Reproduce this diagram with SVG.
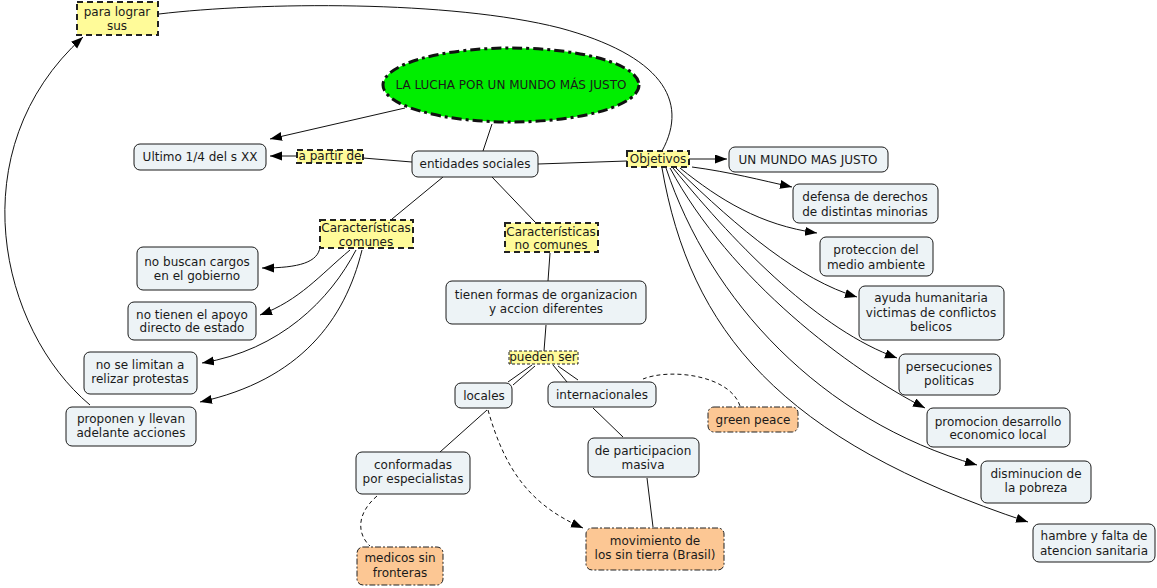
<svg xmlns="http://www.w3.org/2000/svg" width="1157" height="588" viewBox="0 0 1157 588">
<style>
text{font-family:"DejaVu Sans",Verdana,sans-serif;font-size:12px;fill:#1a1a1a;text-anchor:middle}
.n rect{fill:#edf3f6;stroke:#1a1a1a;stroke-width:1}
.l rect{fill:#fffb99;stroke:#222;stroke-width:2;stroke-dasharray:6,4}
.l2 rect{fill:#fffb99;stroke:#222;stroke-width:1;stroke-dasharray:3,2}
.o rect{fill:#fcc794;stroke:#222;stroke-width:1;stroke-dasharray:6,2,2,2}
#connectors path{fill:none;stroke:#111;stroke-width:1}
#connectors .d{stroke-dasharray:4,3}
#connectors .a{marker-end:url(#arr)}
</style>
<defs>
<marker id="arr" markerUnits="userSpaceOnUse" markerWidth="13" markerHeight="10" refX="12" refY="4.5" orient="auto">
<path d="M0,0 L12,4.5 L0,9 z" fill="#000"/>
</marker>
</defs>
<rect width="1157" height="588" fill="#fff"/>
<g id="connectors">
<path d="M159,14 C260,2 450,0 560,28 C660,55 690,100 662,151"/>
<path class="a" d="M90,405 C0,330 -42,150 83,37"/>
<path class="a" d="M405,108 L270,139"/>
<path d="M492,124 L483,151"/>
<path d="M412,162 L363,158"/>
<path class="a" d="M297,156 L270,156"/>
<path d="M538,164 L627,161"/>
<path d="M443,177 L392,219"/>
<path d="M492,177 L535,222"/>
<path class="a" d="M320,247 C318,262 300,268 262,268"/>
<path class="a" d="M350,250 C320,275 300,300 260,315"/>
<path class="a" d="M356,250 C330,300 280,350 202,363"/>
<path class="a" d="M362,250 C345,320 300,380 200,402"/>
<path d="M550,253 L548,281"/>
<path d="M546,325 L544,351"/>
<path d="M532,365 L508,382"/>
<path d="M535,366 L513,385"/>
<path d="M553,365 L567,382"/>
<path d="M558,366 L578,380"/>
<path d="M487,410 L440,452"/>
<path class="d a" d="M488,410 C505,470 530,505 583,528"/>
<path d="M593,408 L623,437"/>
<path d="M647,478 L653,527"/>
<path class="d" d="M377,496 C355,515 358,535 370,546"/>
<path class="d" d="M643,379 C670,368 730,375 740,406"/>
<path class="a" d="M689,159 L727,159"/>
<path class="a" d="M692,167 C730,172 760,180 792,187"/>
<path class="a" d="M680,168 C720,200 760,225 817,233"/>
<path class="a" d="M676,168 C740,230 800,280 857,297"/>
<path class="a" d="M673,168 C740,250 820,330 897,358"/>
<path class="a" d="M670,168 C730,280 850,370 925,408"/>
<path class="a" d="M666,168 C710,300 820,420 977,465"/>
<path class="a" d="M662,168 C690,330 780,440 1028,522"/>
</g>
<g id="n-lograr" class="l"><rect x="77" y="2" width="81" height="33"/><text x="117" y="16">para lograr</text><text x="117" y="30">sus</text></g>
<g id="n-main"><ellipse cx="511" cy="85" rx="128" ry="37" fill="#00ee00" stroke="#111" stroke-width="3" stroke-dasharray="10,4,3,4"/><text x="511" y="89">LA LUCHA POR UN MUNDO MÁS JUSTO</text></g>
<g id="n-ultimo" class="n"><rect x="134" y="144" width="132" height="26" rx="6"/><text x="200" y="161">Ultimo 1/4 del s XX</text></g>
<g id="n-apartir" class="l"><rect x="297" y="150" width="66" height="13"/><text x="330" y="160">a partir de</text></g>
<g id="n-entidades" class="n"><rect x="412" y="151" width="126" height="26" rx="6"/><text x="475" y="168">entidades sociales</text></g>
<g id="n-objetivos" class="l"><rect x="627" y="151" width="62" height="16"/><text x="658" y="163">Objetivos</text></g>
<g id="n-mundo" class="n"><rect x="729" y="147" width="159" height="25" rx="6"/><text x="808" y="164">UN MUNDO MAS JUSTO</text></g>
<g id="n-defensa" class="n"><rect x="793" y="184" width="145" height="39" rx="6"/><text x="865" y="201">defensa de derechos</text><text x="865" y="216">de distintas minorias</text></g>
<g id="n-proteccion" class="n"><rect x="820" y="237" width="113" height="39" rx="6"/><text x="876" y="254">proteccion del</text><text x="876" y="269">medio ambiente</text></g>
<g id="n-ayuda" class="n"><rect x="859" y="286" width="145" height="54" rx="6"/><text x="931" y="302">ayuda humanitaria</text><text x="931" y="317">victimas de conflictos</text><text x="931" y="331">belicos</text></g>
<g id="n-persec" class="n"><rect x="899" y="354" width="101" height="41" rx="6"/><text x="949" y="371">persecuciones</text><text x="949" y="385">politicas</text></g>
<g id="n-promocion" class="n"><rect x="927" y="408" width="143" height="39" rx="6"/><text x="998" y="426">promocion desarrollo</text><text x="998" y="439">economico local</text></g>
<g id="n-dismin" class="n"><rect x="981" y="461" width="110" height="42" rx="6"/><text x="1036" y="478">disminucion de</text><text x="1036" y="492">la pobreza</text></g>
<g id="n-hambre" class="n"><rect x="1033" y="524" width="122" height="38" rx="6"/><text x="1094" y="540">hambre y falta de</text><text x="1094" y="555">atencion sanitaria</text></g>
<g id="n-comunes" class="l"><rect x="320" y="220" width="93" height="28"/><text x="366" y="232">Características</text><text x="366" y="246">comunes</text></g>
<g id="n-nocomunes" class="l"><rect x="505" y="223" width="93" height="29"/><text x="551" y="236">Características</text><text x="551" y="249">no comunes</text></g>
<g id="n-buscan" class="n"><rect x="137" y="247" width="121" height="43" rx="6"/><text x="197" y="266">no buscan cargos</text><text x="197" y="280">en el gobierno</text></g>
<g id="n-apoyo" class="n"><rect x="128" y="302" width="128" height="38" rx="6"/><text x="192" y="319">no tienen el apoyo</text><text x="192" y="332">directo de estado</text></g>
<g id="n-limitan" class="n"><rect x="84" y="352" width="113" height="42" rx="6"/><text x="140" y="369">no se limitan a</text><text x="140" y="383">relizar protestas</text></g>
<g id="n-proponen" class="n"><rect x="66" y="407" width="130" height="39" rx="6"/><text x="131" y="423">proponen y llevan</text><text x="131" y="437">adelante acciones</text></g>
<g id="n-formas" class="n"><rect x="446" y="281" width="200" height="43" rx="6"/><text x="546" y="299">tienen formas de organizacion</text><text x="546" y="313">y accion diferentes</text></g>
<g id="n-pueden" class="l2"><rect x="509" y="351" width="69" height="13"/><text x="543" y="361">pueden ser</text></g>
<g id="n-locales" class="n"><rect x="455" y="383" width="57" height="25" rx="6"/><text x="484" y="400">locales</text></g>
<g id="n-internac" class="n"><rect x="548" y="382" width="108" height="25" rx="6"/><text x="602" y="399">internacionales</text></g>
<g id="n-green" class="o"><rect x="708" y="407" width="90" height="25" rx="6"/><text x="753" y="424">green peace</text></g>
<g id="n-conform" class="n"><rect x="356" y="452" width="114" height="42" rx="6"/><text x="413" y="469">conformadas</text><text x="413" y="483">por especialistas</text></g>
<g id="n-masiva" class="n"><rect x="588" y="438" width="111" height="39" rx="6"/><text x="643" y="455">de participacion</text><text x="643" y="469">masiva</text></g>
<g id="n-medicos" class="o"><rect x="357" y="547" width="86" height="38" rx="6"/><text x="400" y="562">medicos sin</text><text x="400" y="577">fronteras</text></g>
<g id="n-mst" class="o"><rect x="586" y="528" width="138" height="42" rx="6"/><text x="655" y="545">movimiento de</text><text x="655" y="559">los sin tierra (Brasil)</text></g>
</svg>
